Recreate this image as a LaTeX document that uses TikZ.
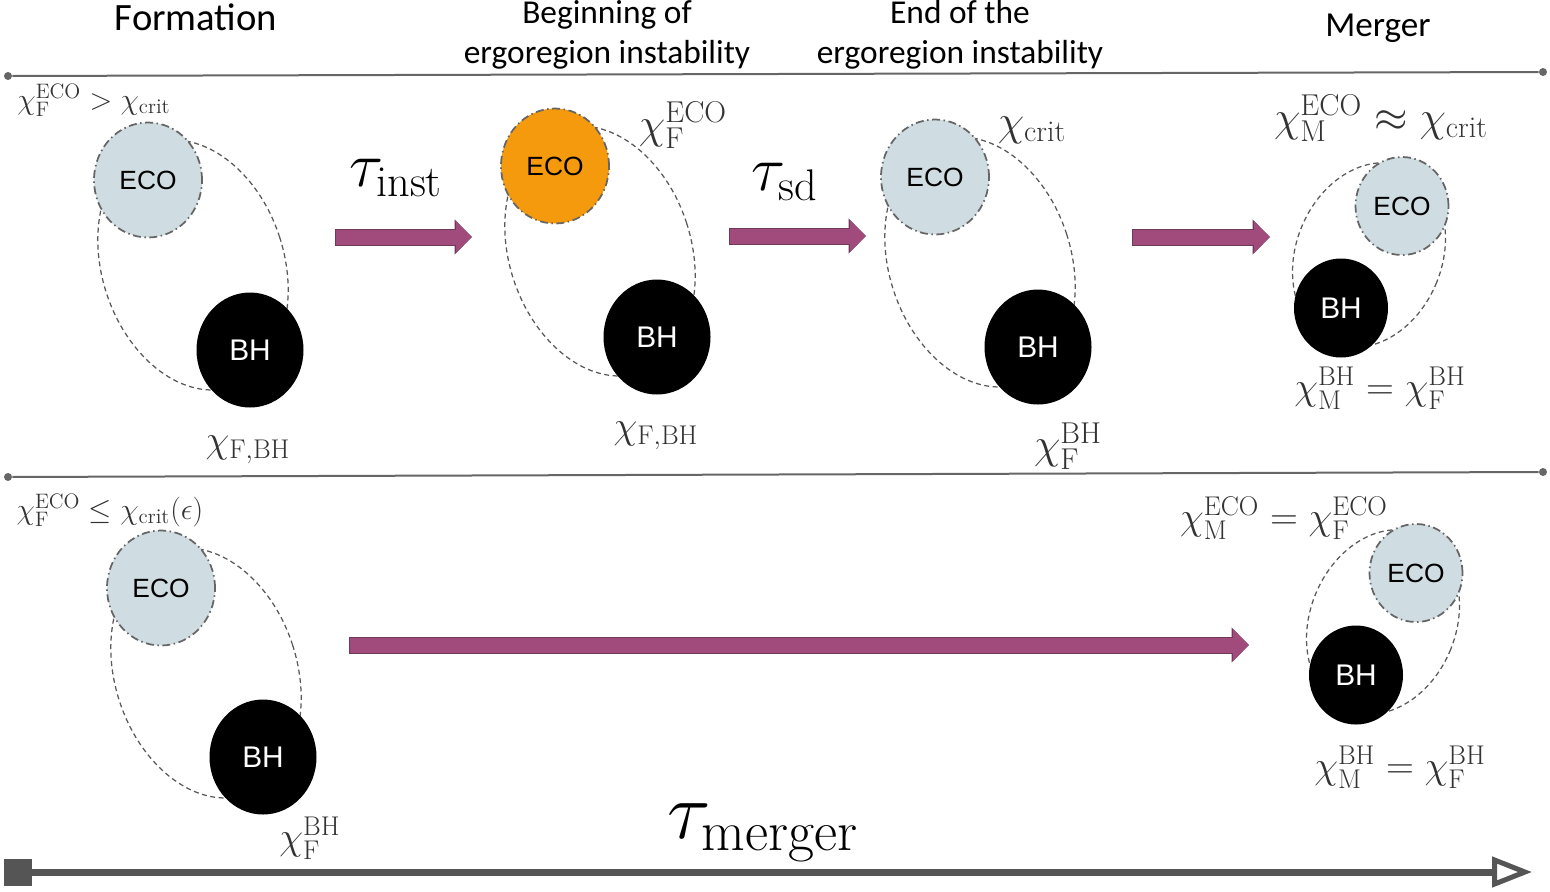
\RequirePackage{fix-cm}
\documentclass[tikz,border=0pt]{standalone}
\usepackage{fontspec}
\newfontfamily\headfont{Carlito}
\newfontfamily\objfont{Liberation Sans}
\usetikzlibrary{arrows.meta,shapes.geometric}
\definecolor{ecoblue}{HTML}{CFDCE1}
\definecolor{ecoorange}{HTML}{F59A0C}
\definecolor{evopink}{HTML}{A04B7B}
\definecolor{evodark}{HTML}{6E3A58}
\definecolor{linegray}{HTML}{666666}
\definecolor{timegray}{HTML}{555555}
\tikzset{
    % Binary components
    bin eco/.style={ellipse, draw=black!60, line width=0.35mm,
                    dash pattern=on 1.6mm off 0.7mm on 0.3mm off 0.7mm,
                    fill=ecoblue, minimum width=21.6mm, minimum height=23mm,
                    inner sep=0pt, font=\objfont\fontsize{15}{15}\selectfont},
    bin eco small/.style={bin eco, minimum width=18.6mm, minimum height=19.6mm},
    bin bh/.style={ellipse, fill=black, text=white, minimum width=21.4mm,
                   minimum height=23mm, inner sep=0pt,
                   font=\objfont\fontsize{17}{17}\selectfont},
    bin bh small/.style={bin bh, minimum width=18.8mm, minimum height=19.8mm},
    orbit/.style={draw=black!65, line width=0.25mm, dash pattern=on 1mm off 0.7mm},
    % Evolution arrows
    evo/.style={evopink, line width=3mm, -{Triangle[length=3.2mm, width=6.2mm]},
                preaction={draw=evodark, line width=3.4mm, shorten <=-0.2mm,
                           -{Triangle[length=3.5mm, width=6.8mm]}}},
    % Separators and time axis
    sep dot/.style={circle, fill=linegray, inner sep=0pt, minimum size=1.6mm},
    sep line/.style={linegray, line width=0.4mm},
    time start/.style={rectangle, fill=timegray, inner sep=0pt, minimum size=5.4mm},
    time axis/.style={timegray, line width=1.4mm,
                      -{Triangle[open, length=8mm, width=6mm, line width=1mm]}},
    % Texts
    head/.style={font=\headfont\fontsize{19}{23}\selectfont, align=center},
    lbl/.style={text=black!80, inner sep=0pt},
    lbl s/.style={lbl, font=\fontsize{17}{18}\selectfont},
    lbl m/.style={lbl, font=\fontsize{22}{24}\selectfont},
    lbl l/.style={lbl, font=\fontsize{24.5}{26}\selectfont},
    lbl tau/.style={lbl, text=black, font=\fontsize{36}{38}\selectfont},
    lbl tau big/.style={lbl, text=black, font=\fontsize{46}{48}\selectfont},
}

\begin{document}
\begin{tikzpicture}[x=0.2mm, y=-0.2mm]
    \useasboundingbox (0,0) rectangle (1550,891);
    % Headings
    \node[head, font=\headfont\fontsize{22}{24}\selectfont] (hform) at (196,17) {Formation};
    \node[head] (hbeg) at (607,35) {Beginning of\\ergoregion instability};
    \node[head] (hend) at (960,35) {End of the\\ergoregion instability};
    \node[head, font=\headfont\fontsize{20}{22}\selectfont] (hmerg) at (1378,28) {Merger};
    % Separators
    \node[sep dot] (s1a) at (8,76) {};
    \node[sep dot] (s1b) at (1543,72) {};
    \draw[sep line] (s1a) -- (s1b);
    \node[sep dot] (s2a) at (8,477) {};
    \node[sep dot] (s2b) at (1543,472) {};
    \draw[sep line] (s2a) -- (s2b);

    % Top row: formation
    \draw[orbit, rotate around={18:(193,265)}] (193,265) ellipse [x radius=91, y radius=128];
    \node[bin eco] (eco1) at (148,180) {ECO};
    \node[bin bh] (bh1) at (250,350) {BH};
    \node[lbl s] (l1) at (94,100) {$\chi_{\mathrm{F}}^{\mathrm{ECO}} > \chi_{\mathrm{crit}}$};
    \node[lbl m] (l2) at (248,450) {$\chi_{\mathrm{F,BH}}$};
    % Top row: beginning of instability
    \draw[orbit, rotate around={18:(600,251)}] (600,251) ellipse [x radius=91, y radius=128];
    \node[bin eco, fill=ecoorange] (eco2) at (555,166) {ECO};
    \node[bin bh] (bh2) at (657,337) {BH};
    \node[lbl l] (l3) at (683,125) {$\chi_{\mathrm{F}}^{\mathrm{ECO}}$};
    \node[lbl m] (l4) at (656,436) {$\chi_{\mathrm{F,BH}}$};
    % Top row: end of instability
    \draw[orbit, rotate around={18:(980,262)}] (980,262) ellipse [x radius=91, y radius=128];
    \node[bin eco] (eco3) at (935,177) {ECO};
    \node[bin bh] (bh3) at (1038,347) {BH};
    \node[lbl l] (l5) at (1032,130) {$\chi_{\mathrm{crit}}$};
    \node[lbl l] (l6) at (1068,446) {$\chi_{\mathrm{F}}^{\mathrm{BH}}$};
    % Top row: merger
    \draw[orbit, rotate around={-22:(1369,255)}] (1369,255) ellipse [x radius=73, y radius=95];
    \node[bin eco small] (eco4) at (1402,206) {ECO};
    \node[bin bh small] (bh4) at (1341,308) {BH};
    \node[lbl l] (l7) at (1381,118) {$\chi_{\mathrm{M}}^{\mathrm{ECO}} \approx \chi_{\mathrm{crit}}$};
    \node[lbl m] (l8) at (1380,388) {$\chi_{\mathrm{M}}^{\mathrm{BH}} = \chi_{\mathrm{F}}^{\mathrm{BH}}$};
    % Top row: time scales
    \coordinate (a1s) at (336,237);
    \coordinate (a1e) at (472,237);
    \draw[evo] (a1s) -- (a1e);
    \node[lbl tau] (t1) at (396,178) {$\tau_{\mathrm{inst}}$};
    \coordinate (a2s) at (730,236);
    \coordinate (a2e) at (866,236);
    \draw[evo] (a2s) -- (a2e);
    \node[lbl tau] (t2) at (785,182) {$\tau_{\mathrm{sd}}$};
    \coordinate (a3s) at (1133,237);
    \coordinate (a3e) at (1270,237);
    \draw[evo] (a3s) -- (a3e);

    % Bottom row: formation
    \draw[orbit, rotate around={18:(206,673)}] (206,673) ellipse [x radius=91, y radius=128];
    \node[bin eco] (eco5) at (161,588) {ECO};
    \node[bin bh] (bh5) at (263,757) {BH};
    \node[lbl s] (l9) at (110,510) {$\chi_{\mathrm{F}}^{\mathrm{ECO}} \leq \chi_{\mathrm{crit}}(\epsilon)$};
    \node[lbl m] (l10) at (310,838) {$\chi_{\mathrm{F}}^{\mathrm{BH}}$};
    % Bottom row: merger
    \draw[orbit, rotate around={-22:(1383,622)}] (1383,622) ellipse [x radius=73, y radius=95];
    \node[bin eco small] (eco6) at (1416,573) {ECO};
    \node[bin bh small] (bh6) at (1356,675) {BH};
    \node[lbl m] (l11) at (1284,518) {$\chi_{\mathrm{M}}^{\mathrm{ECO}} = \chi_{\mathrm{F}}^{\mathrm{ECO}}$};
    \node[lbl m] (l12) at (1400,767) {$\chi_{\mathrm{M}}^{\mathrm{BH}} = \chi_{\mathrm{F}}^{\mathrm{BH}}$};
    \coordinate (a4s) at (350,645);
    \coordinate (a4e) at (1249,645);
    \draw[evo] (a4s) -- (a4e);

    % Time axis
    \node[time start] (t0) at (18,872) {};
    \coordinate (tend) at (1532,872);
    \draw[time axis] (t0.east) -- (tend);
    \node[lbl tau big] (t3) at (763,833) {$\tau_{\mathrm{merger}}$};
\end{tikzpicture}
\end{document}
